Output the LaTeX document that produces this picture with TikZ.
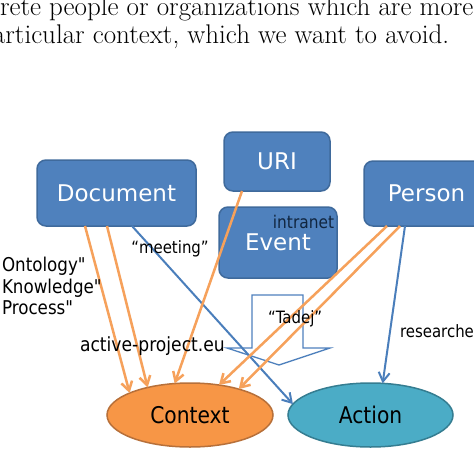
\documentclass[tikz,border=0pt]{standalone}
\usepackage{fontspec}
\newfontfamily\dv{DejaVu Sans}
\newfontfamily\dvc[FakeStretch=0.88]{DejaVu Sans}
\usetikzlibrary{arrows.meta,backgrounds,shapes.geometric}
\definecolor{boxfill}{HTML}{4F81BD}
\definecolor{boxdraw}{HTML}{3F6A9C}
\definecolor{ctxfill}{HTML}{F79646}
\definecolor{ctxdraw}{HTML}{B7703A}
\definecolor{actfill}{HTML}{4BACC6}
\definecolor{actdraw}{HTML}{357D91}
\definecolor{thinline}{HTML}{8DA3C6}
\definecolor{arrblue}{HTML}{4A7EBB}
\definecolor{arrorange}{HTML}{F6A15B}
\definecolor{navy}{HTML}{10253F}
\begin{document}
\begin{tikzpicture}[x=1pt,y=-1pt,
  box/.style={draw=boxdraw, line width=1.5pt, fill=boxfill, rounded corners=9pt,
    text=white, font=\dv\fontsize{23}{27}\selectfont, inner sep=0pt, outer sep=0pt},
  oval/.style={ellipse, line width=1.5pt, inner sep=0pt, outer sep=0pt,
    minimum width=166pt, minimum height=64pt, font=\dvc\fontsize{23}{27}\selectfont, text=black},
  thin/.style={draw=thinline, line width=1.1pt},
  blu/.style={draw=arrblue, line width=2pt, -{Straight Barb[length=9pt,width=11pt]}},
  org/.style={draw=arrorange, line width=2.5pt, -{Straight Barb[length=9pt,width=11pt]}},
  lbl/.style={inner sep=0pt, outer sep=0pt, text=black},
  bigarrow/.style={draw=boxfill, line width=1.3pt}
]
\useasboundingbox (0,0) rectangle (474,474);
\clip (0,0) rectangle (474,474);
\fill[white] (0,0) rectangle (474,474);

% top text
\node[lbl, anchor=base west, font=\fontsize{27}{31}\selectfont] (t1) at (0,15) {rete people or organizations which are more};
\node[lbl, anchor=base west, font=\fontsize{27}{31}\selectfont] (t2) at (-7,43) {articular context, which we want to avoid.};

% boxes
\node[box, minimum width=159pt, minimum height=66pt] (doc) at (116.5,193) {Document};
\node[box, minimum width=106pt, minimum height=59pt] (uri) at (277,161.5) {URI};
\node[box, minimum width=118pt, minimum height=71pt] (ev) at (278,242.5) {Event};
\node[box, minimum width=125pt, minimum height=65pt] (per) at (426.5,193.5) {Person};

% ellipses
\node[oval, draw=ctxdraw, fill=ctxfill] (ctx) at (190,415) {Context};
\node[oval, draw=actdraw, fill=actfill, minimum width=165pt] (act) at (370.5,415) {Action};

\begin{pgfonlayer}{background}
  \draw[thin] (doc.east) -- (ev.north);
  \draw[thin] (uri.south) -- (ev.north);
  \draw[thin] (per.west) -- (ev.north);
  \draw[blu] ([xshift=97pt]uri.south west) -- (act.118);
\end{pgfonlayer}

% big outline arrow
\draw[bigarrow] (227,348) -- (252,348) -- (252,295) -- (303,295) -- (303,348) -- (330,348) -- (279,365) -- cycle;

% blue arrows
\draw[blu] ([xshift=95pt]doc.south west) -- (act.172);
\draw[blu] ([xshift=41pt]per.south west) -- (act.69);

% orange arrows
\draw[org] ([xshift=48pt]doc.south west) -- (ctx.160);
\draw[org] ([xshift=70pt]doc.south west) -- (ctx.147);
\draw[org] ([xshift=18pt]uri.south west) -- (ctx.116);
\draw[org] ([xshift=23pt]per.south west) -- (ctx.46);
\draw[org] ([xshift=36pt]per.south west) -- (ctx.28);

% labels
\node[lbl, anchor=base, text=navy, font=\dvc\fontsize{17.5}{20}\selectfont] (intra) at (303.5,228) {intranet};
\node[lbl, anchor=base, font=\dvc\fontsize{17}{20}\selectfont] (meet) at (170,253) {“meeting”};
\node[lbl, anchor=base west, font=\dvc\fontsize{19}{22}\selectfont] (onto) at (2,271) {Ontology"};
\node[lbl, anchor=base west, font=\dvc\fontsize{19}{22}\selectfont] (know) at (2,293) {Knowledge"};
\node[lbl, anchor=base west, font=\dvc\fontsize{19}{22}\selectfont] (proc) at (2,314) {Process"};
\node[lbl, anchor=base west, font=\dvc\fontsize{19.5}{22}\selectfont] (proj) at (80,351) {active-project.eu};
\node[lbl, anchor=base west, font=\dvc\fontsize{17}{20}\selectfont] (tadej) at (268,323) {“Tadej”};
\node[lbl, anchor=base west, font=\dvc\fontsize{17}{20}\selectfont] (res) at (400,337) {researche};
\end{tikzpicture}
\end{document}
